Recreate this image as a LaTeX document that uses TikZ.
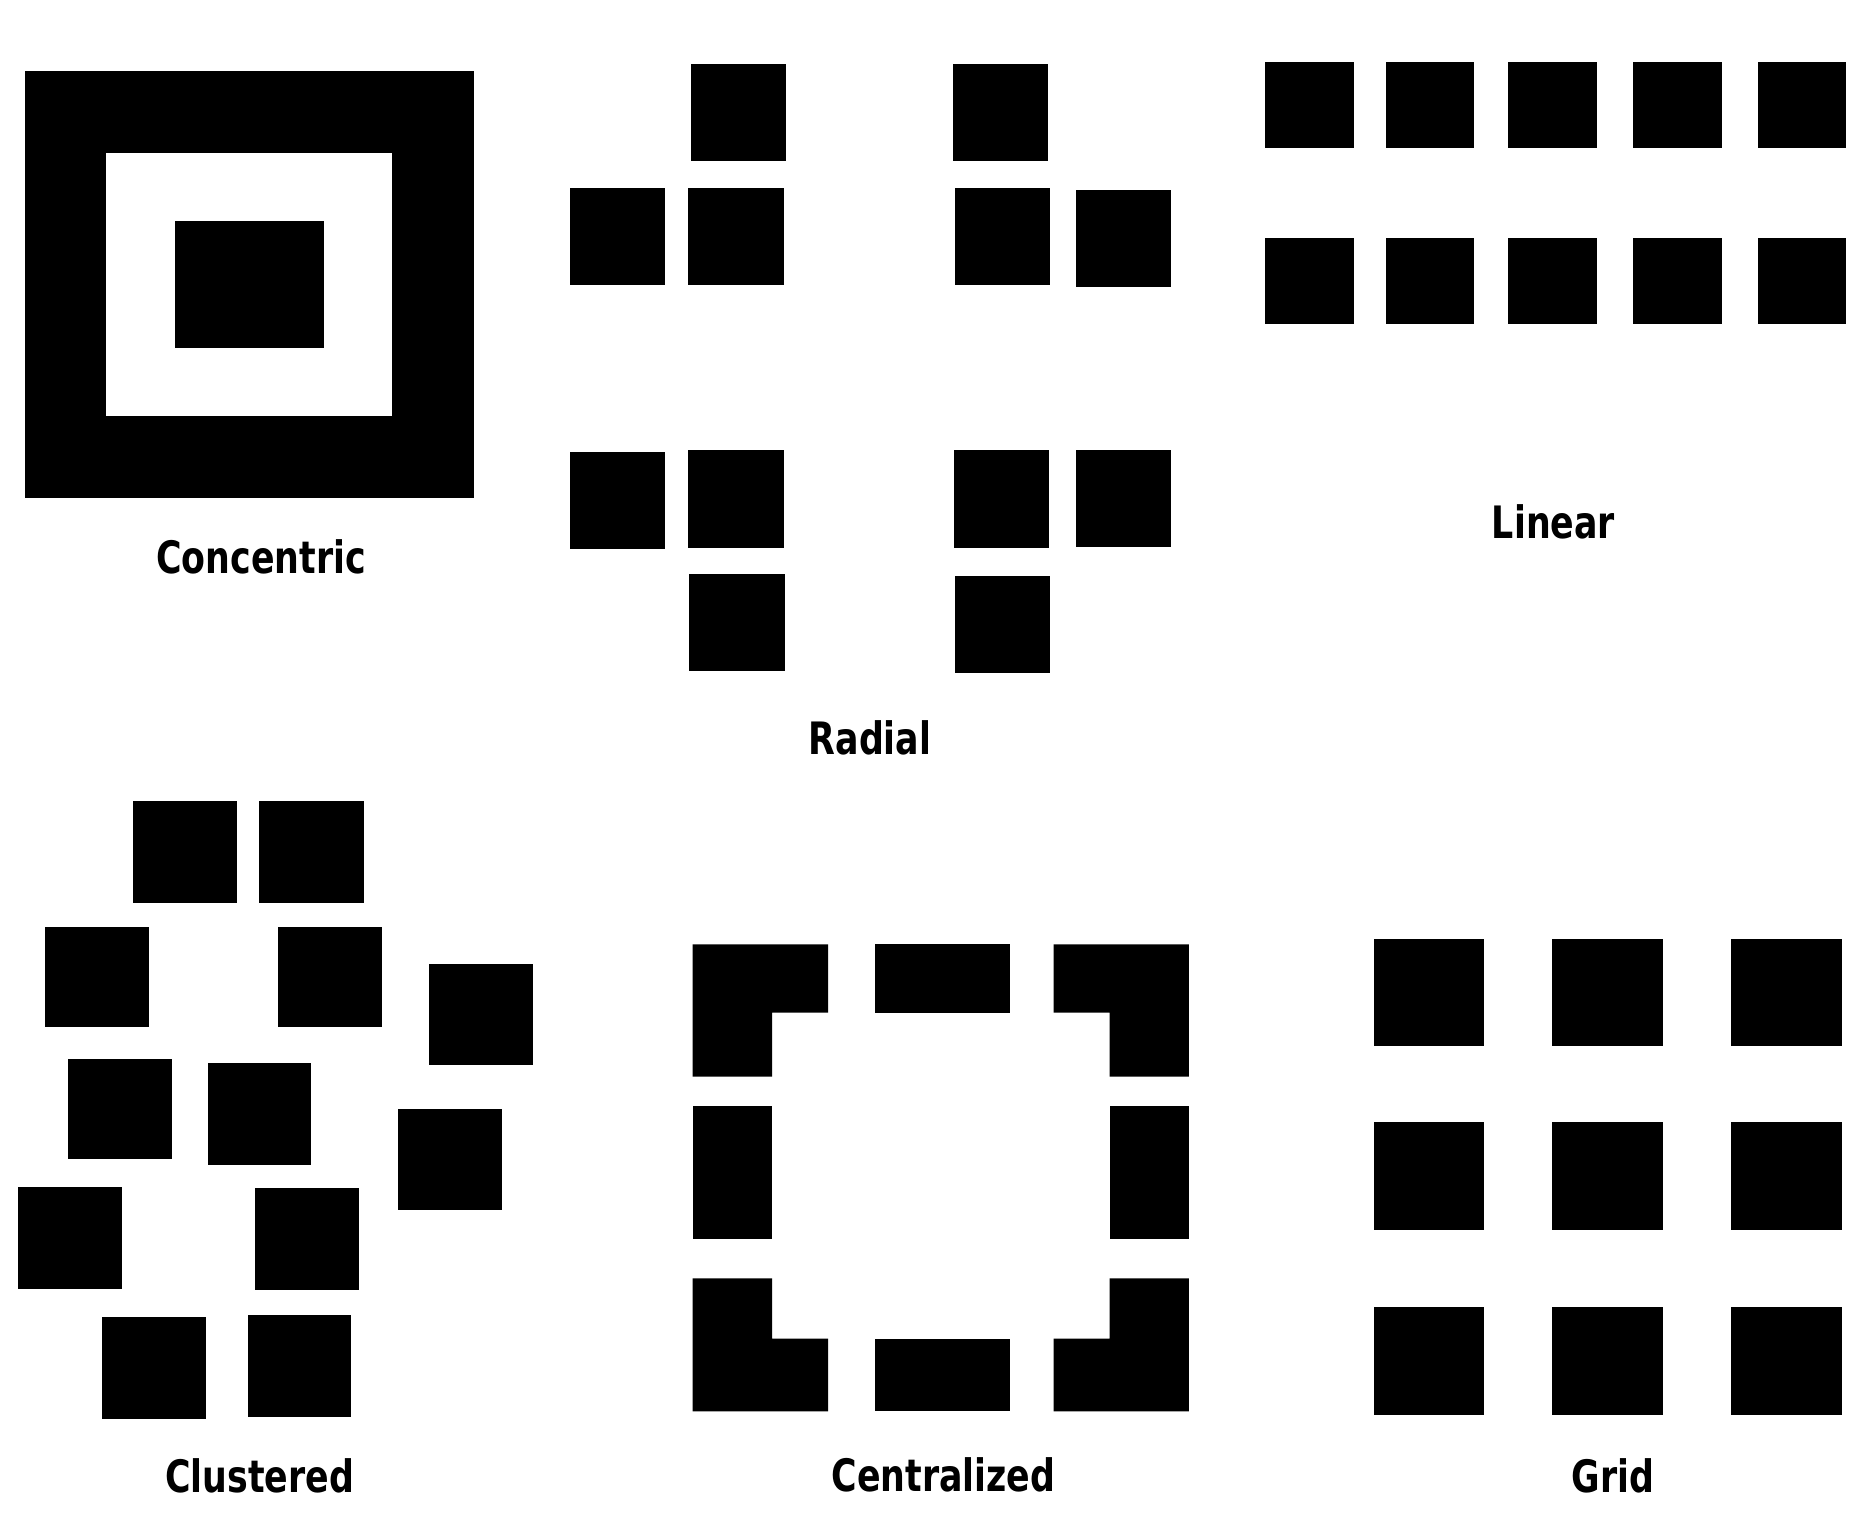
\documentclass[tikz,border=0pt]{standalone}
\usepackage{fontspec}
\newfontfamily\lblfont{DejaVu Sans}[FakeStretch=0.78]
\begin{document}
\begin{tikzpicture}[x=0.1mm,y=-0.1mm,
  blk/.style={fill=black},
  wht/.style={fill=white},
  lbl/.style={inner sep=0pt,anchor=base,font=\lblfont\bfseries\fontsize{12.7pt}{14pt}\selectfont}]
\useasboundingbox[fill=white] (0,0) rectangle (1872,1520);
% Concentric
\fill[blk] (24.9,70.8) rectangle (473.8,497.5);
\fill[wht] (106,153.1) rectangle (392.3,416.4);
\fill[blk] (174.9,221.2) rectangle (323.8,348.3);
\node[lbl] (concentric) at (261,573) {Concentric};
% Radial
\fill[blk] (690.5,63.6) rectangle (785.9,160.8);
\fill[blk] (569.5,188.2) rectangle (665.3,285.4);
\fill[blk] (687.9,188.2) rectangle (784.1,285.4);
\fill[blk] (952.8,63.6) rectangle (1048.2,160.8);
\fill[blk] (954.6,188.2) rectangle (1049.5,285.4);
\fill[blk] (1076.4,190.1) rectangle (1171.4,286.8);
\fill[blk] (569.5,451.5) rectangle (665.3,549.2);
\fill[blk] (687.9,450.1) rectangle (784.1,547.8);
\fill[blk] (688.7,573.7) rectangle (784.6,671);
\fill[blk] (953.7,450.1) rectangle (1048.7,548.3);
\fill[blk] (1076.4,449.6) rectangle (1171.4,547.3);
\fill[blk] (955,575.6) rectangle (1050.4,673.3);
\node[lbl] (radial) at (870,754) {Radial};
% Linear
\foreach \xa/\xb in {1264.6/1353.7,1385.9/1474.2,1508.4/1597.1,1633.4/1722.1,1758.3/1846.2}{
  \fill[blk] (\xa,61.6) rectangle (\xb,148.1);
  \fill[blk] (\xa,238) rectangle (\xb,323.9);
}
\node[lbl] (linear) at (1553.5,538) {Linear};
% Clustered
\fill[blk] (132.9,801.2) rectangle (236.8,902.7);
\fill[blk] (258.9,801.2) rectangle (363.6,902.7);
\fill[blk] (44.6,926.8) rectangle (148.6,1026.8);
\fill[blk] (277.9,926.8) rectangle (381.8,1026.8);
\fill[blk] (429.3,963.6) rectangle (532.9,1064.6);
\fill[blk] (68.2,1058.9) rectangle (172.1,1159.4);
\fill[blk] (207.5,1063.2) rectangle (311.4,1165.1);
\fill[blk] (397.5,1109.4) rectangle (501.8,1210.4);
\fill[blk] (17.5,1186.8) rectangle (121.8,1288.7);
\fill[blk] (255,1188.2) rectangle (358.9,1290.1);
\fill[blk] (101.8,1316.6) rectangle (205.7,1418.5);
\fill[blk] (247.5,1314.7) rectangle (351.4,1416.6);
\node[lbl] (clustered) at (259.5,1492) {Clustered};
% Centralized
\fill[blk] (692.5,944.3) -- (828.2,944.3) -- (828.2,1012.7) -- (772.1,1012.7) -- (772.1,1076.7) -- (692.5,1076.7) -- cycle;
\fill[blk] (874.6,944.3) rectangle (1010,1012.7);
\fill[blk] (1053.6,944.3) -- (1188.9,944.3) -- (1188.9,1076.7) -- (1109.6,1076.7) -- (1109.6,1012.7) -- (1053.6,1012.7) -- cycle;
\fill[blk] (692.5,1106) rectangle (772.1,1238.5);
\fill[blk] (1109.6,1106) rectangle (1188.9,1238.5);
\fill[blk] (692.5,1278.4) -- (772.1,1278.4) -- (772.1,1338.5) -- (828.2,1338.5) -- (828.2,1411.3) -- (692.5,1411.3) -- cycle;
\fill[blk] (874.6,1338.5) rectangle (1010,1411.3);
\fill[blk] (1109.6,1278.4) -- (1188.9,1278.4) -- (1188.9,1411.3) -- (1053.6,1411.3) -- (1053.6,1338.5) -- (1109.6,1338.5) -- cycle;
\node[lbl] (centralized) at (943.5,1491) {Centralized};
% Grid
\foreach \xa/\xb in {1373.6/1484.2,1552.3/1662.9,1731/1841.7}{
  \foreach \ya/\yb in {938.5/1046,1122.4/1229.8,1307.4/1414.9}{
    \fill[blk] (\xa,\ya) rectangle (\xb,\yb);
  }
}
\node[lbl] (grid) at (1613,1492) {Grid};
\end{tikzpicture}
\end{document}
